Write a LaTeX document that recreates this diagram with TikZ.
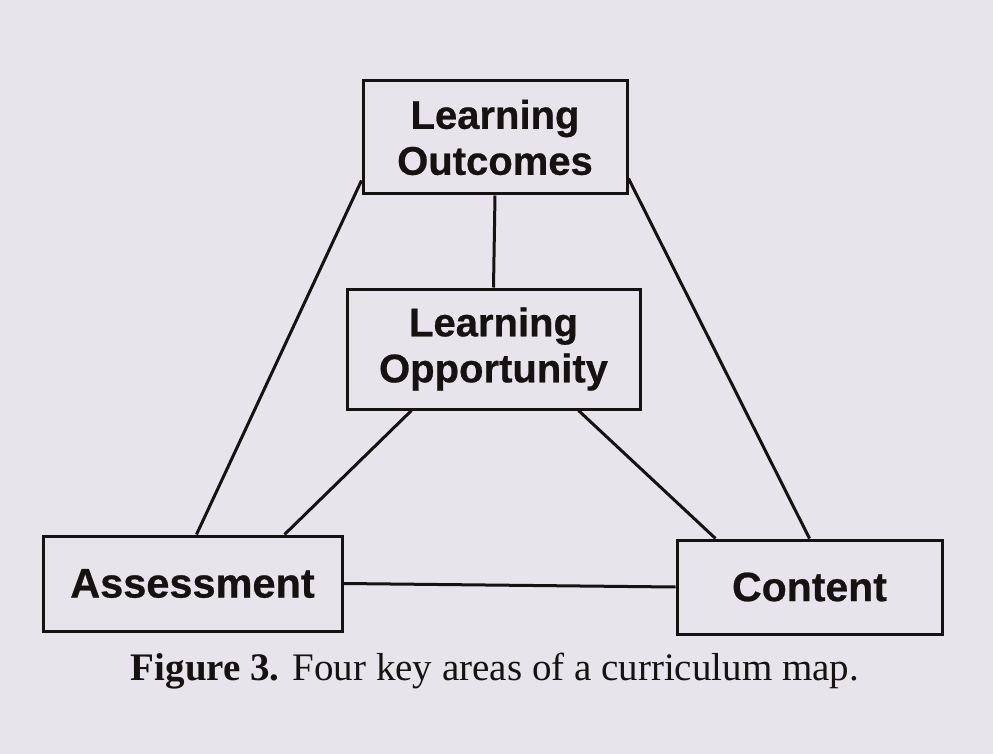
\documentclass[tikz,border=0pt]{standalone}
\usepackage{fontspec}
\setmainfont{Liberation Serif}
\newfontfamily\areafont[BoldFeatures={FakeBold=0.6}]{Liberation Sans}
\definecolor{paper}{RGB}{231,229,235}
\definecolor{ink}{RGB}{22,18,18}
\tikzset{
  area/.style={draw=ink, line width=3pt, fill=paper, align=center, inner sep=0pt,
    font=\areafont\bfseries\fontsize{40}{46}\selectfont, text=ink},
  link/.style={draw=ink, line width=3pt}
}
\begin{document}
\begin{tikzpicture}[x=1pt,y=-1pt]
    % Page
    \fill[paper] (0,0) rectangle (993,754);
    \useasboundingbox (0,0) rectangle (993,754);
    % Boxes
    \node[area, minimum width=264pt, minimum height=113pt] (outcomes) at (495,137.5) {Learning\\Outcomes};
    \node[area, minimum width=293pt, minimum height=120pt] (opportunity) at (493.5,349) {Learning\\Opportunity};
    \node[area, minimum width=299pt, minimum height=95pt, font=\areafont\bfseries\fontsize{41.5}{46}\selectfont] (assess) at (192.5,583.5) {Assessment};
    \node[area, minimum width=265pt, minimum height=94pt, font=\areafont\bfseries\fontsize{41}{46}\selectfont] (content) at (809.5,587) {Content};
    % Links
    \draw[link] (outcomes.south) -- (opportunity.north);
    \draw[link] ([yshift=15pt]outcomes.south west) -- ([xshift=4pt]assess.north);
    \draw[link] ([yshift=17pt]outcomes.south east) -- (content.north);
    \draw[link] ([xshift=66pt]opportunity.south west) -- ([xshift=-59pt]assess.north east);
    \draw[link] ([xshift=-63pt]opportunity.south east) -- ([xshift=40pt]content.north west);
    \draw[link] (assess.east) -- (content.west);
    % Caption
    \node[anchor=base, text=ink, font=\fontsize{39}{44}\selectfont] (caption) at (495,680)
      {\textbf{Figure 3.} Four key areas of a curriculum map.};
\end{tikzpicture}
\end{document}
